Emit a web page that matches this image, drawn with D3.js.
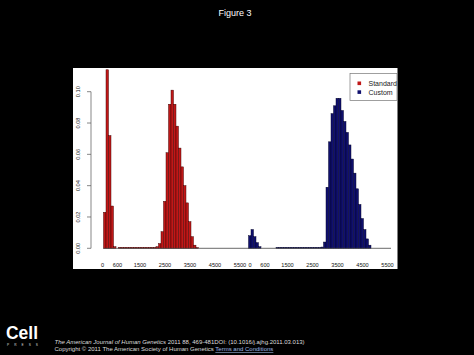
<!DOCTYPE html>
<html><head><meta charset="utf-8">
<script src="https://d3js.org/d3.v7.min.js"></script>
<style>html,body{margin:0;padding:0;background:#000;overflow:hidden}</style>
</head><body>
<script>
// ---- data ----
const binWidth = 100;            // units per bin
const binsPerSeries = 58;        // bins for each histogram (second is offset by this)
const standardValues = [0.023,0.114,0.072,0.027,0.001,0,
  0.0006,0.0006,0.0006,0.0006,0.0006,0.0006,0.0006,0.0006,0.0006,0.0006,0.0006,0.0006,0.0006,0.0006,0.0006,
  0.001,0.003,0.0106,0.030,0.061,0.092,0.101,0.092,0.078,0.064,0.052,0.040,0.029,0.017,0.0074,0.002,0.0005,
  0,0,0,0,0,0,0,0,0,0,0,0,0,0,0,0,0,0,0,0,0,0];
const customValues = [0.008,0.012,0.0074,0.0036,0.001,0,0,0,0,0,0,
  0.0006,0.0006,0.0006,0.0006,0.0006,0.0006,0.0006,0.0006,0.0006,0.0006,0.0006,0.0006,0.0006,0.0006,0.0006,0.0006,0.0006,0.0006,
  0.0008,0.004,0.039,0.068,0.086,0.091,0.0958,0.0958,0.088,0.081,0.074,0.066,0.057,0.048,0.038,0.028,0.019,0.012,0.006,0.002,
  0,0,0,0,0,0,0,0,0];
const tickLabels = [0,600,1500,2500,3500,4500,5500];
const yTicks = [0,0.02,0.04,0.06,0.08,0.10];
const seriesNames = ["Standard","Custom"];
const seriesColors = ["#c01818","#10106e"];
const seriesStroke = ["#3a0000","#000025"];

// ---- drawing ----
const W = 474, H = 355;
const svg = d3.select("body").append("svg").attr("width",W).attr("height",H)
  .style("font-family","Liberation Sans, Arial, sans-serif");
svg.append("rect").attr("width",W).attr("height",H).attr("fill","#000");

svg.append("text").attr("x",235).attr("y",16).attr("text-anchor","middle")
  .attr("fill","#fff").attr("font-size",9).text("Figure 3");

// plot panel
svg.append("rect").attr("x",73).attr("y",68).attr("width",324.5).attr("height",201).attr("fill","#fff");

const offsetUnits = binsPerSeries*binWidth;
const x = d3.scaleLinear().domain([0, 2*offsetUnits]).range([103.5, 103.5 + 2*binsPerSeries*2.5]);
const y = d3.scaleLinear().domain([0,0.1]).range([248.3, 91.7]);

const series = [standardValues, customValues];
series.forEach((vals,si)=>{
  const data = vals.map((v,i)=>({x0: si*offsetUnits + i*binWidth, v}));
  svg.append("g").selectAll("rect").data(data.filter(d=>d.v>0)).join("rect")
    .attr("x",d=>x(d.x0))
    .attr("width",d=>x(d.x0+binWidth)-x(d.x0))
    .attr("y",d=>y(d.v))
    .attr("height",d=>y(0)-y(d.v))
    .attr("fill",seriesColors[si])
    .attr("stroke",seriesStroke[si]).attr("stroke-width",0.45);
});
// baseline (zero-height bars)
svg.append("line").attr("x1",x(0)).attr("x2",x(2*offsetUnits)-2.5)
  .attr("y1",y(0)).attr("y2",y(0)).attr("stroke","#444").attr("stroke-width",0.8);

// y axis
const yAxis = svg.append("g").attr("transform","translate(91,0)");
yAxis.append("line").attr("x1",0).attr("x2",0).attr("y1",y(0)).attr("y2",y(0.1)).attr("stroke","#555").attr("stroke-width",0.7);
yAxis.selectAll(".tk").data(yTicks).join("line")
  .attr("x1",-4).attr("x2",0).attr("y1",d=>y(d)).attr("y2",d=>y(d)).attr("stroke","#555").attr("stroke-width",0.7);
yAxis.selectAll("text").data(yTicks).join("text")
  .attr("transform",d=>`translate(-13,${y(d)}) rotate(-90)`)
  .attr("text-anchor","middle").attr("dy","0.35em")
  .attr("font-size",5.6).attr("fill","#222").text(d=>d3.format(".2f")(d));

// x labels
const labelShift = [-1, 1.5];
[0,1].forEach(si=>{
  svg.append("g").selectAll("text").data(tickLabels).join("text")
    .attr("x",d=>x(si*offsetUnits + d) + labelShift[si]).attr("y",266.5)
    .attr("text-anchor","middle").attr("font-size",5.6).attr("fill","#111").text(d=>d);
});

// legend
const lg = svg.append("g");
lg.append("rect").attr("x",350).attr("y",73.5).attr("width",47).attr("height",27)
  .attr("fill","#fff").attr("stroke","#777").attr("stroke-width",0.7);
seriesNames.forEach((n,i)=>{
  lg.append("rect").attr("x",357.5).attr("y",81.5+i*8.8).attr("width",3.6).attr("height",3.6)
    .attr("fill",seriesColors[i]);
  lg.append("text").attr("x",368.5).attr("y",86+i*8.8).attr("font-size",7).attr("fill","#222").text(n);
});

// footer
svg.append("text").attr("x",6).attr("y",339).attr("fill","#fff").attr("font-size",19)
  .attr("font-weight","bold").attr("textLength",32).attr("lengthAdjust","spacingAndGlyphs").text("Cell");
svg.append("text").attr("x",7).attr("y",345.5).attr("fill","#ddd").attr("font-size",3.2)
  .attr("textLength",31).attr("lengthAdjust","spacing").text("PRESS");
const t1 = svg.append("text").attr("x",54.5).attr("y",344.3).attr("fill","#ddd").attr("font-size",6);
t1.append("tspan").attr("font-style","italic").text("The American Journal of Human Genetics");
t1.append("tspan").text(" 2011 88, 469-481DOI: (10.1016/j.ajhg.2011.03.013)");
const t2 = svg.append("text").attr("x",54.5).attr("y",351).attr("fill","#ddd").attr("font-size",6);
t2.append("tspan").text("Copyright © 2011 The American Society of Human Genetics ");
t2.append("tspan").attr("fill","#9fb6e0").attr("text-decoration","underline").text("Terms and Conditions");
</script>
</body></html>
